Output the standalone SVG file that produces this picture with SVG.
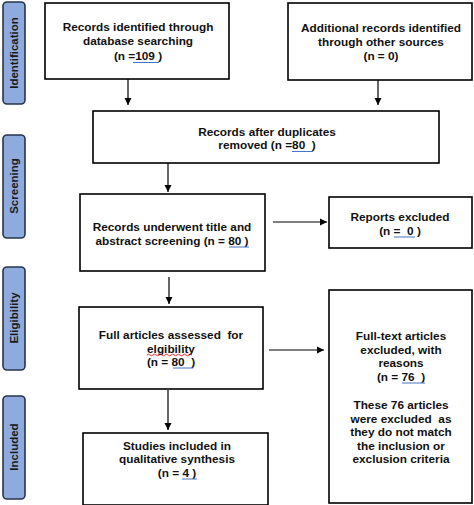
<svg xmlns="http://www.w3.org/2000/svg" width="474" height="505" viewBox="0 0 474 505">
<defs>
<marker id="ah" markerWidth="8" markerHeight="8" refX="7" refY="4" orient="auto" markerUnits="userSpaceOnUse">
<path d="M0,0.5 L7,4 L0,7.5 Z" fill="#000"/>
</marker>
<style>
.box{fill:#fff;stroke:#000;stroke-width:1.6}
.side{fill:#8FAADC;stroke:#27344d;stroke-width:1.6}
.t{font-family:"Liberation Sans",Arial,sans-serif;font-weight:bold;font-size:11.8px;fill:#111;text-anchor:middle;white-space:pre}
.st{font-family:"Liberation Sans",Arial,sans-serif;font-weight:bold;font-size:11.5px;fill:#1a1a1a;text-anchor:middle}
.c{stroke:#000;stroke-width:1.2;fill:none;marker-end:url(#ah)}
.ul{stroke:#4472C4;stroke-width:1}
</style>
</defs>
<rect width="474" height="505" fill="#fff"/>
<g id="side-identification"><rect class="side" x="3" y="2" width="22" height="102" rx="4"/><text class="st" transform="translate(18,53) rotate(-90)">Identification</text></g>
<g id="side-screening"><rect class="side" x="3" y="135" width="22" height="103" rx="4"/><text class="st" transform="translate(18,186) rotate(-90)">Screening</text></g>
<g id="side-eligibility"><rect class="side" x="3" y="267" width="22" height="103" rx="4"/><text class="st" transform="translate(18,318) rotate(-90)">Eligibility</text></g>
<g id="side-included"><rect class="side" x="3" y="396" width="22" height="103" rx="4"/><text class="st" transform="translate(18,447) rotate(-90)">Included</text></g>

<g id="connectors">
<line class="c" x1="128" y1="79" x2="128" y2="105"/>
<line class="c" x1="378" y1="80" x2="378" y2="105"/>
<line class="c" x1="168" y1="163" x2="168" y2="192"/>
<line class="c" x1="273" y1="222" x2="327" y2="222"/>
<line class="c" x1="169" y1="277" x2="169" y2="304"/>
<line class="c" x1="269" y1="350" x2="324" y2="350"/>
<line class="c" x1="168" y1="390" x2="168" y2="430"/>
</g>

<g id="n1"><rect class="box" x="45" y="3" width="184" height="76"/>
<text class="t" x="138" y="31">Records identified through</text>
<text class="t" x="138" y="45">database searching</text>
<text class="t" x="138" y="60">(n =109 )</text>
<line class="ul" x1="133" y1="62.5" x2="159" y2="62.5"/></g>

<g id="n2"><rect class="box" x="288" y="3" width="184" height="77"/>
<text class="t" x="381" y="32">Additional records identified</text>
<text class="t" x="381" y="46">through other sources</text>
<text class="t" x="381" y="60">(n = 0)</text></g>

<g id="n3"><rect class="box" x="93" y="111" width="346" height="52"/>
<text class="t" x="267" y="136">Records after duplicates</text>
<text class="t" x="267" y="149">removed (n =80  )</text>
<line class="ul" x1="292" y1="151.5" x2="313" y2="151.5"/></g>

<g id="n4"><rect class="box" x="80" y="194" width="185" height="77"/>
<text class="t" x="172" y="231">Records underwent title and</text>
<text class="t" x="172" y="245">abstract screening (n = 80 )</text>
<line class="ul" x1="229" y1="247" x2="249" y2="247"/></g>

<g id="n5"><rect class="box" x="329" y="197" width="143" height="51"/>
<text class="t" x="400" y="221">Reports excluded</text>
<text class="t" x="400" y="235">(n =  0 )</text>
<line class="ul" x1="394" y1="237" x2="415" y2="237"/></g>

<g id="n6"><rect class="box" x="79" y="307" width="184" height="82"/>
<text class="t" x="171" y="339">Full articles assessed  for</text>
<text class="t" x="171" y="353">elgibility</text>
<text class="t" x="171" y="366">(n = 80  )</text>
<path d="M147,355 q1.5,-1.5 3,0 t3,0 t3,0 t3,0 t3,0 t3,0 t3,0 t3,0 t3,0 t3,0 t3,0 t3,0 t3,0 t3,0 t3,0" fill="none" stroke="#d00" stroke-width="0.8"/>
<line class="ul" x1="173" y1="368" x2="193" y2="368"/></g>

<g id="n7"><rect class="box" x="329" y="290" width="143" height="213"/>
<text class="t" x="401" y="340">Full-text articles</text>
<text class="t" x="401" y="354">excluded, with</text>
<text class="t" x="401" y="367">reasons</text>
<text class="t" x="401" y="381">(n = 76  )</text>
<line class="ul" x1="402" y1="383" x2="425" y2="383"/>
<text class="t" x="401" y="409">These 76 articles</text>
<text class="t" x="401" y="423">were excluded  as</text>
<text class="t" x="401" y="436">they do not match</text>
<text class="t" x="401" y="450">the inclusion or</text>
<text class="t" x="401" y="463">exclusion criteria</text></g>

<g id="n8"><rect class="box" x="83" y="433" width="185" height="72"/>
<text class="t" x="177" y="450">Studies included in</text>
<text class="t" x="177" y="463">qualitative synthesis</text>
<text class="t" x="177" y="477">(n = 4 )</text>
<line class="ul" x1="182" y1="479" x2="197" y2="479"/></g>
</svg>
